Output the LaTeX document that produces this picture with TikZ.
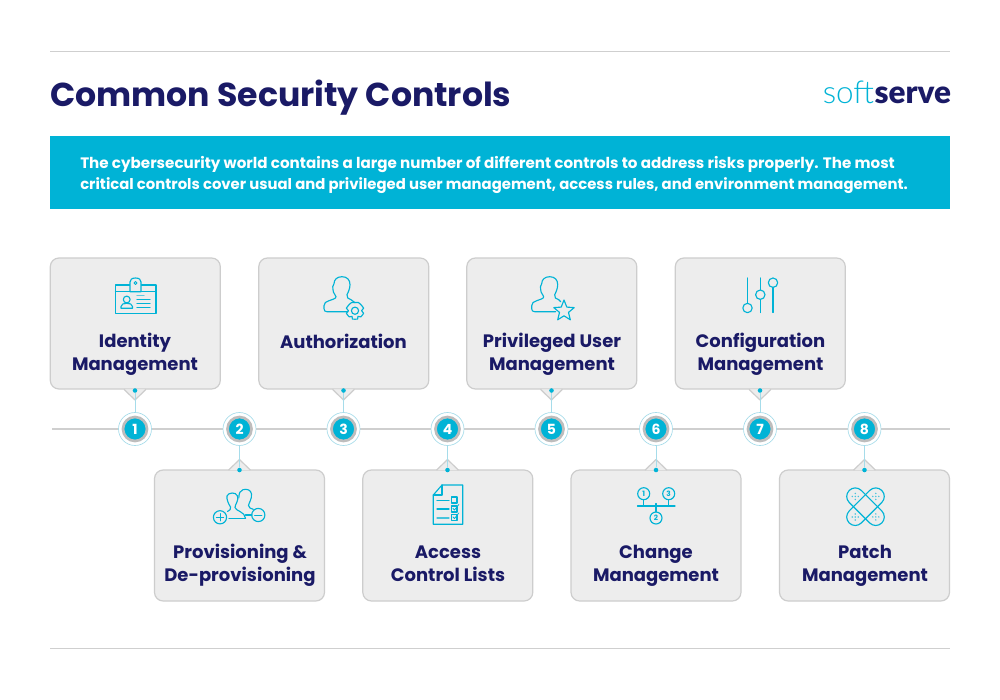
\documentclass[tikz,border=0pt]{standalone}
\usepackage{fontspec}
\setmainfont{Poppins}
\newfontfamily\logolight{Lato Light}
\newfontfamily\logobold{Lato}[UprightFont=* Black]
\definecolor{navy}{HTML}{1A1A66}
\definecolor{teal}{HTML}{00B3D6}
\definecolor{boxfill}{HTML}{EDEDED}
\definecolor{boxline}{HTML}{CDCDCD}
\definecolor{ruleg}{HTML}{CFCFCF}
\definecolor{halo}{HTML}{A6DCEA}
\definecolor{ringg}{HTML}{BDBDBD}
\tikzset{
  x=0.75pt,y=-0.75pt,
  card/.style={draw=boxline,fill=boxfill,line width=0.9pt,rounded corners=6.5pt,minimum width=127.5pt,minimum height=98.25pt,inner sep=0pt},
  cardlabel/.style={text=navy,font=\fontsize{13.5}{16.9}\selectfont\bfseries,align=center,inner sep=0pt},
  haloc/.style={circle,draw=halo,fill=white,line width=0.5pt,minimum size=24.75pt,inner sep=0pt},
  numc/.style={circle,draw=ringg,fill=teal,line width=2pt,minimum size=18pt,inner sep=0pt,text=white,font=\fontsize{10.5}{12}\selectfont\bfseries},
  pinc/.style={circle,fill=teal,minimum size=3.4pt,inner sep=0pt},
  stem/.style={draw=halo,line width=0.6pt},
  ico/.style={draw=teal,line width=0.85pt,line join=round,line cap=round},
}
% centre x, y of tip, y of base
\newcommand{\pointer}[3]{%
  \fill[boxfill] (#1-11,#3) -- (#1,#2) -- (#1+11,#3) -- cycle;
  \draw[boxline,line width=0.9pt,line join=round] (#1-11,#3) -- (#1,#2) -- (#1+11,#3);
}
\newcommand{\personpath}{%
  (24,0) -- (3,0) .. controls (1,0) and (0,-1) .. (0,-3) -- (0,-6)
  .. controls (0,-9) and (2,-10) .. (5,-11)
  .. controls (9,-12.5) and (12,-13) .. (12,-15)
  .. controls (12,-17) and (9,-18) .. (9,-22)
  .. controls (8,-24) and (9,-26) .. (10,-28)
  .. controls (10,-32) and (13,-35) .. (18,-35)
  .. controls (23,-35) and (26,-32) .. (26,-27)
  .. controls (26,-23) and (24,-19) .. (23,-17)
  .. controls (22.5,-14) and (24,-13) .. (27,-12)
}
\begin{document}
\begin{tikzpicture}
\useasboundingbox (0,0) rectangle (1000,700);
\fill[white] (0,0) rectangle (1000,700);
% rules
\coordinate (rt1) at (50,51); \coordinate (rt2) at (950,51);
\coordinate (rb1) at (50,648); \coordinate (rb2) at (950,648);
\draw[ruleg,line width=0.7pt] (rt1) -- (rt2);
\draw[ruleg,line width=0.7pt] (rb1) -- (rb2);
% heading
\node[anchor=base west,inner sep=0pt,text=navy,font=\fontsize{24.85}{30}\selectfont\bfseries] (title) at (50,106) {Common Security Controls};
\node[anchor=base west,inner sep=0pt,text=teal,font=\fontsize{23.6}{26}\logolight] (logoa) at (822.5,103) {soft};
\node[anchor=base west,inner sep=0pt,text=navy,font=\fontsize{23.6}{26}\logobold] (logob) at (logoa.base east) {serve};
% banner
\node[fill=teal,minimum width=675pt,minimum height=54.75pt,inner sep=0pt] (banner) at (500,172.5) {};
\node[anchor=base west,inner sep=0pt,text=white,font=\fontsize{11.35}{14}\selectfont\bfseries] (b1) at (80,168.5) {The cybersecurity world contains a large number of different controls to address risks properly. The most};
\node[anchor=base west,inner sep=0pt,text=white,font=\fontsize{11.13}{14}\selectfont\bfseries] (b2) at (80,189.5) {critical controls cover usual and privileged user management, access rules, and environment management.};
% timeline
\coordinate (ts) at (52,429); \coordinate (te) at (950,429);
\draw[ruleg,line width=1.6pt] (ts) -- (te);
% cards
\node[card] (c1) at (135.3,323.5) {};
\node[card] (c3) at (343.8,323.5) {};
\node[card] (c5) at (551.8,323.5) {};
\node[card] (c7) at (760.3,323.5) {};
\node[card] (c2) at (239.5,535.5) {};
\node[card] (c4) at (447.8,535.5) {};
\node[card] (c6) at (656,535.5) {};
\node[card] (c8) at (864.5,535.5) {};
\pointer{135}{400}{389.3}
\pointer{343.5}{400}{389.3}
\pointer{551.5}{400}{389.3}
\pointer{760}{400}{389.3}
\pointer{239.5}{459.5}{470.2}
\pointer{447.5}{459.5}{470.2}
\pointer{656}{459.5}{470.2}
\pointer{864.5}{459.5}{470.2}
% markers
\foreach \n/\x in {1/135,2/239.5,3/343.5,4/447.5,5/551.5,6/656,7/760,8/864.5}{
  \node[haloc] (h\n) at (\x,429) {};
  \node[numc] (m\n) at (\x,429) {\n};
}
\foreach \n/\x in {1/135,3/343.5,5/551.5,7/760}{
  \node[pinc] (p\n) at (\x,390.5) {};
  \draw[stem] (p\n) -- (h\n);
}
\foreach \n/\x in {2/239.5,4/447.5,6/656,8/864.5}{
  \node[pinc] (p\n) at (\x,470) {};
  \draw[stem] (h\n) -- (p\n);
}
% labels
\node[cardlabel] (l1) at (135,354) {Identity\\Management};
\node[cardlabel] (l3) at (343.5,341.5) {Authorization};
\node[cardlabel] (l5) at (552,354) {Privileged User\\Management};
\node[cardlabel] (l7) at (760.5,354) {Configuration\\Management};
\node[cardlabel] (l2) at (240,565.5) {Provisioning \&\\De-provisioning};
\node[cardlabel] (l4) at (448,564) {Access\\Control Lists};
\node[cardlabel] (l6) at (656,566) {Change\\Management};
\node[cardlabel] (l8) at (865,566) {Patch\\Management};
% icon 1
\draw[ico] (115.5,285) rectangle (156,313.5);
\draw[ico] (115.5,291.7) -- (156,291.7);
\draw[ico,fill=boxfill] (130,291.7) -- (130,282) .. controls (130,279.5) and (132,278) .. (135.5,278) .. controls (139,278) and (141,279.5) .. (141,282) -- (141,291.7) -- cycle;
\draw[ico,line width=0.7pt] (135.5,283) circle (1.5);
\draw[ico] (126.7,299.5) circle (3.4);
\draw[ico] (121,308.3) -- (121,306.5) .. controls (121,304) and (124,303.3) .. (126.7,303.3) .. controls (129.5,303.3) and (132.5,304) .. (132.5,306.5) -- (132.5,308.3) -- cycle;
\draw[ico,draw=teal!60!boxfill] (137,295.7) -- (144,295.7);
\draw[ico] (137,299.3) -- (150,299.3) (137,303.4) -- (150,303.4) (137,307.5) -- (150,307.5);
% icon 3
\begin{scope}[shift={(324,311.7)}]
  \draw[ico] \personpath -- (31,-9);
\end{scope}
\draw[ico] (355,310.7) circle (3.6);
\draw[ico] plot[smooth cycle,tension=0.15] coordinates {
 (355+3.3,310.7-8.2) (355+5.8,310.7-6.2) (355+8.6,310.7-2.6) (355+6.6,310.7) (355+8.6,310.7+2.6) (355+5.8,310.7+6.2)
 (355+2.9,310.7+5.6) (355+2.6,310.7+8.4) (355-2.6,310.7+8.4) (355-2.9,310.7+5.6) (355-5.8,310.7+6.2) (355-8.6,310.7+2.6)
 (355-6.6,310.7) (355-8.6,310.7-2.6) (355-5.8,310.7-6.2) (355-3.3,310.7-8.2) };
% icon 5
\begin{scope}[shift={(531.7,311.7)}]
  \draw[ico] \personpath -- (29,-10);
\end{scope}
\draw[ico] (564,300) -- (566.8,307.1) -- (574.2,307.6) -- (568.5,312.4) -- (570.3,319.8) -- (564,315.8) -- (557.7,319.8) -- (559.5,312.4) -- (553.8,307.6) -- (561.2,307.1) -- cycle;
% icon 7
\draw[ico] (747.5,278) -- (747.5,303.3) (760.3,278) -- (760.3,290) (760.3,299.4) -- (760.3,312.5) (773,287.4) -- (773,312.5);
\draw[ico] (747.5,308) circle (4.7);
\draw[ico] (760.3,294.7) circle (4.7);
\draw[ico] (773,282.7) circle (4.7);
% icon 2
\draw[ico] (227.5,511.5) .. controls (230,510.5) and (231,509) .. (230.5,507)
  .. controls (228,503) and (226.5,499) .. (227,496) .. controls (228,492.5) and (236,491.5) .. (237.5,496)
  .. controls (239,501) and (235,504) .. (235,507.5) .. controls (235.5,511) and (245,511.5) .. (245.5,518.3);
\draw[ico] (229,518.3) -- (245.5,518.3) (245.5,515) -- (252,515);
\draw[ico] (238.8,498) .. controls (239,493) and (240,490.5) .. (243,489.7) .. controls (247,488.5) and (251,490) .. (251.5,494)
  .. controls (252,499) and (249,502.5) .. (248.5,505.5) .. controls (248.5,508) and (251,508.5) .. (253.3,509.3);
\draw[ico] (220,517.3) circle (6.6);
\draw[ico,line width=0.7pt] (216.3,517.3) -- (223.7,517.3) (220,513.6) -- (220,521);
\draw[ico] (258.3,515) circle (6.6);
\draw[ico,line width=0.7pt] (254.6,515) -- (262,515);
% icon 4
\draw[ico] (433.3,495) -- (442,485) -- (462.7,485) -- (462.7,524.3) -- (433.3,524.3) -- cycle;
\draw[ico] (433.3,495) -- (442,495) -- (442,485);
\draw[ico] (437,500.3) -- (449,500.3) (437,509) -- (449,509);
\draw[ico,draw=teal!70!boxfill] (437,518) -- (449,518);
\draw[ico] (451.5,497) rectangle (457,503);
\draw[ico] (451.5,506) rectangle (457,512);
\draw[ico] (451.5,514.5) rectangle (457,520.5);
\draw[ico,line width=0.6pt] (453,508.5) -- (454.5,510) -- (458.8,504.5);
\draw[ico,line width=0.6pt] (453,517) -- (454.5,518.5) -- (458.8,513);
% icon 6
\draw[ico] (637.5,506) -- (675,506);
\draw[ico] (643.7,499.7) -- (643.7,506) (668.7,499.7) -- (668.7,506) (656,503.5) -- (656,512);
\node[circle,draw=teal,line width=0.85pt,minimum size=9pt,inner sep=0pt,text=teal,font=\fontsize{5.5}{6}\selectfont\bfseries] (i1) at (643.7,493.7) {1};
\node[circle,draw=teal,line width=0.85pt,minimum size=9pt,inner sep=0pt,text=teal,font=\fontsize{5.5}{6}\selectfont\bfseries] (i3) at (668.7,493.7) {3};
\node[circle,draw=teal,line width=0.85pt,minimum size=9pt,inner sep=0pt,text=teal,font=\fontsize{5.5}{6}\selectfont\bfseries] (i2) at (656,518) {2};
% icon 8
\begin{scope}[shift={(865.5,506.7)}]
  \draw[ico,rounded corners=6.3pt,rotate=45] (-23,-8.5) rectangle (23,8.5);
  \draw[ico,rounded corners=6.3pt,rotate=-45] (-23,-8.5) rectangle (23,8.5);
  \foreach \a in {45,135,225,315}{
    \foreach \dx/\dy in {-3/0,3/0,0/-3,0/3,0/0}{
      \fill[teal!70!boxfill] ({\a}:14.5) ++(\dx,\dy) circle (0.8);
    }
  }
\end{scope}
\end{tikzpicture}
\end{document}
